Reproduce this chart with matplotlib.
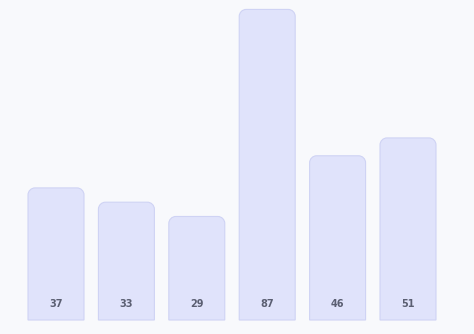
import matplotlib
matplotlib.use("Agg")
import matplotlib.pyplot as plt
from matplotlib.path import Path
from matplotlib.patches import PathPatch

values = [37, 33, 29, 87, 46, 51]
labels = ["37", "33", "29", "87", "46", "51"]

BG = "#f8f9fc"
FILL = "#e0e3fb"
EDGE = "#cfd3f4"
TEXT = "#5b5f72"

W, H = 474, 334
fig = plt.figure(figsize=(W / 100, H / 100), dpi=100)
fig.patch.set_facecolor(BG)
ax = fig.add_axes([0, 0, 1, 1])
ax.set_facecolor(BG)

step_px = 70.4
unit_px = 3.57
base_px = 320
ax.set_xlim(-56 / step_px, (W - 56) / step_px)
ax.set_ylim(-(H - base_px) / unit_px, base_px / unit_px)
ax.axis("off")

width = 0.795
r_px = 7
rx = r_px / step_px
ry = r_px / unit_px


def rounded_top_bar(x, h):
    l, r = x - width / 2, x + width / 2
    k = 0.55
    verts = [
        (l, 0), (l, h - ry),
        (l, h - ry + ry * k), (l + rx - rx * k, h), (l + rx, h),
        (r - rx, h),
        (r - rx + rx * k, h), (r, h - ry + ry * k), (r, h - ry),
        (r, 0), (l, 0),
    ]
    codes = [Path.MOVETO, Path.LINETO,
             Path.CURVE4, Path.CURVE4, Path.CURVE4,
             Path.LINETO,
             Path.CURVE4, Path.CURVE4, Path.CURVE4,
             Path.LINETO, Path.CLOSEPOLY]
    return PathPatch(Path(verts, codes), facecolor=FILL, edgecolor=EDGE, lw=0.8)


for i, v in enumerate(values):
    ax.add_patch(rounded_top_bar(i, v))
    ax.text(i, 16 / unit_px, labels[i], ha="center", va="center",
            fontsize=7, fontweight="bold", color=TEXT)

fig.savefig("out.png", dpi=100, facecolor=BG)
